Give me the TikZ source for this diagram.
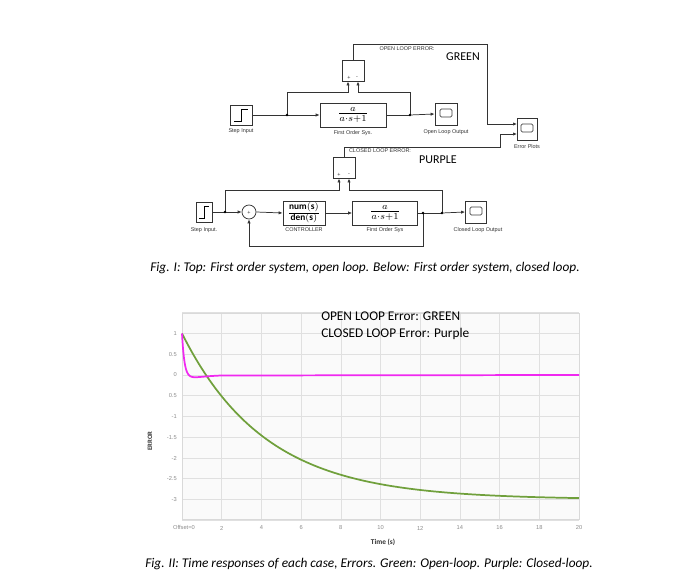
\documentclass[tikz,border=0pt]{standalone}
\usepackage{fontspec}
\setmainfont{Carlito}
\newfontfamily\smallsans{Liberation Sans}
\usetikzlibrary{arrows.meta}
\begin{document}
\begin{tikzpicture}[x=0.75pt,y=-0.75pt,
  blk/.style={draw=black!80,fill=white,line width=0.55pt,inner sep=0pt,rectangle},
  wire/.style={draw=black!80,line width=0.55pt},
  arr/.style={wire,-{Latex[length=3pt,width=2.5pt]}},
  dot/.style={circle,fill=black,inner sep=0pt,minimum size=2pt},
  lab/.style={font=\smallsans\fontsize{4.1pt}{4.5pt}\selectfont,text=black!80,inner sep=0pt},
  grid/.style={draw=black!12,line width=0.4pt},
  tick/.style={font=\smallsans\fontsize{4.3pt}{4.5pt}\selectfont,text=black!45,inner sep=0pt}]
\useasboundingbox (0,0) rectangle (686,581);
\fill[white] (0,0) rectangle (686,581);
% ---------- top (open loop)
\node[blk,minimum width=16.5pt,minimum height=15pt] (stepA) at (241,115) {};
\draw[line width=0.6pt] (234,121) -- (241,121) -- (241,109) -- (248,109);
\node[lab] (stepAl) at (241,131) {Step Input};
\coordinate (b1) at (287,115);
\node[blk,minimum width=49.5pt,minimum height=18pt] (fosA) at (353,115) {$\frac{\scriptstyle a}{\scriptstyle a\cdot s+1}$};
\node[lab] (fosAl) at (353,133) {First Order Sys.};
\coordinate (b2) at (410,115);
\node[blk,minimum width=16.5pt,minimum height=16.5pt] (scopeA) at (446,114) {};
\draw[black!75,rounded corners=1pt,line width=0.5pt] (440,109) rectangle (452,117);
\node[lab] (scopeAl) at (446,132) {Open Loop Output};
\node[blk,minimum width=16.5pt,minimum height=15.75pt] (errA) at (353,71) {};
\node[lab] at (349,78) {+};\node[lab] at (357,78) {-};
\node[blk,minimum width=15pt,minimum height=16.5pt] (plots) at (527,129) {};
\draw[black!75,rounded corners=1pt,line width=0.5pt] (521,124) rectangle (533,132);
\node[lab] (plotsl) at (527,147) {Error Plots};
\node[lab] (olerr) at (407,49) {OPEN LOOP ERROR:};
\node[font=\fontsize{9pt}{10pt}\selectfont,inner sep=0pt] (green) at (463,57) {GREEN};
\draw[wire] (stepA.east) -- (b1);
\draw[arr] (b1) -- (fosA.west);
\draw[wire] (fosA.east) -- (b2);
\draw[arr] (b2) -- (scopeA.west);
\draw[arr] (b1) |- (348,92) -- (348,81.5);
\draw[arr] (b2) |- (358,92) -- (358,81.5);
\draw[arr] (errA.north) -- (353,44) -| (487,124) -- (517,124);
\node[dot] at (b1) {};\node[dot] at (b2) {};
% ---------- bottom (closed loop)
\node[blk,minimum width=12pt,minimum height=15pt] (stepB) at (204,212) {};
\draw[line width=0.6pt] (199,218) -- (204,218) -- (204,206) -- (209,206);
\node[lab] (stepBl) at (204,230) {Step Input.};
\coordinate (b3) at (225,212);
\node[draw=black!80,fill=white,circle,minimum size=10.5pt,inner sep=0pt,line width=0.55pt] (sum) at (249,212) {};
\node[lab] at (249,213) {+};
\node[blk,minimum width=31.5pt,minimum height=18pt] (ctrl) at (304,213) {$\frac{\mathbf{\scriptstyle num(s)}}{\mathbf{\scriptstyle den(s)}}$};
\node[lab] (ctrll) at (304,230) {CONTROLLER};
\node[blk,minimum width=48.75pt,minimum height=18pt] (fosB) at (385,213) {$\frac{\scriptstyle a}{\scriptstyle a\cdot s+1}$};
\node[lab] (fosBl) at (385,230) {First Order Sys};
\coordinate (b4) at (423,213);
\coordinate (b5) at (442,213);
\node[blk,minimum width=15.75pt,minimum height=16.5pt] (scopeB) at (476,212) {};
\draw[black!75,rounded corners=1pt,line width=0.5pt] (470,207) rectangle (482,215);
\node[lab] (scopeBl) at (478,230) {Closed Loop Output};
\node[blk,minimum width=16.5pt,minimum height=15.75pt] (errB) at (344,168) {};
\node[lab] at (339,175) {+};\node[lab] at (349,175) {-};
\node[lab] (clerr) at (380,151) {CLOSED LOOP ERROR:};
\node[font=\fontsize{9pt}{10pt}\selectfont,inner sep=0pt] (purple) at (438,160) {PURPLE};
\draw[wire] (stepB.east) -- (b3);
\draw[arr] (b3) -- (sum.west);
\draw[arr] (sum.east) -- (ctrl.west);
\draw[arr] (ctrl.east) -- (fosB.west);
\draw[wire] (fosB.east) -- (b5);
\draw[arr] (b5) -- (scopeB.west);
\draw[arr] (b4) -- (423,246) -| (sum.south);
\draw[arr] (b3) |- (339,190) -- (339,178.5);
\draw[arr] (b5) |- (349,190) -- (349,178.5);
\draw[arr] (errB.north) -- (344,147) -| (500,134) -- (517,134);
\node[dot] at (b3) {};\node[dot] at (b4) {};\node[dot] at (b5) {};
\node[font=\itshape\fontsize{10pt}{11pt}\selectfont] (cap1) at (365,268) {Fig. I: Top: First order system, open loop. Below: First order system, closed loop.};
% ---------- plot
\fill[black!2] (182,313) rectangle (579,519);
\foreach \k in {1,...,9} \draw[grid] ({182+39.7*\k},313) -- ({182+39.7*\k},519);
\foreach \v in {1.5,1,...,-3.5} \draw[grid] (182,{375-41.5*\v}) -- (579,{375-41.5*\v});
\draw[black!15,line width=0.4pt] (182,313) rectangle (579,519);
\foreach \v/\t in {1/1,0.5/0.5,0/0,-0.5/0.5,-1/-1,-1.5/-1.5,-2/-2,-2.5/-2.5,-3/-3}
  \node[tick,anchor=east] at (177,{375-41.5*\v}) {\t};
\foreach \k in {1,...,10} \node[tick] at ({182+39.7*\k},528) {\the\numexpr2*\k\relax};
\node[tick] at (184,527) {Offset=0};
\node[font=\bfseries\fontsize{5pt}{6pt}\selectfont,rotate=90,text=black!80] (ylab) at (150,441) {ERROR};
\node[font=\bfseries\fontsize{5.5pt}{6pt}\selectfont,text=black!80] (xlab) at (383,542) {Time (s)};
\draw[line width=1.3pt,color={rgb,255:red,112;green,160;blue,60}] plot[domain=0:20,samples=120] ({182+19.85*\x},{375-41.5*(-3+4*exp(-\x/4.2))});
\draw[line width=1.3pt,color={rgb,255:red,240;green,40;blue,240}] plot[domain=0:2,samples=100] ({182+19.85*\x},{375-41.5*(exp(-\x/0.12)-0.06*(\x/0.5)*exp(1-\x/0.5))}) -- (579,375);
\node[font=\fontsize{10pt}{12.5pt}\selectfont,align=left,anchor=north west,inner sep=0pt] (legend) at (321,312) {OPEN LOOP Error: GREEN\\CLOSED LOOP Error: Purple};
\node[font=\itshape\fontsize{10pt}{11pt}\selectfont] (cap2) at (369,564) {Fig. II: Time responses of each case, Errors. Green: Open-loop. Purple: Closed-loop.};
\end{tikzpicture}
\end{document}
